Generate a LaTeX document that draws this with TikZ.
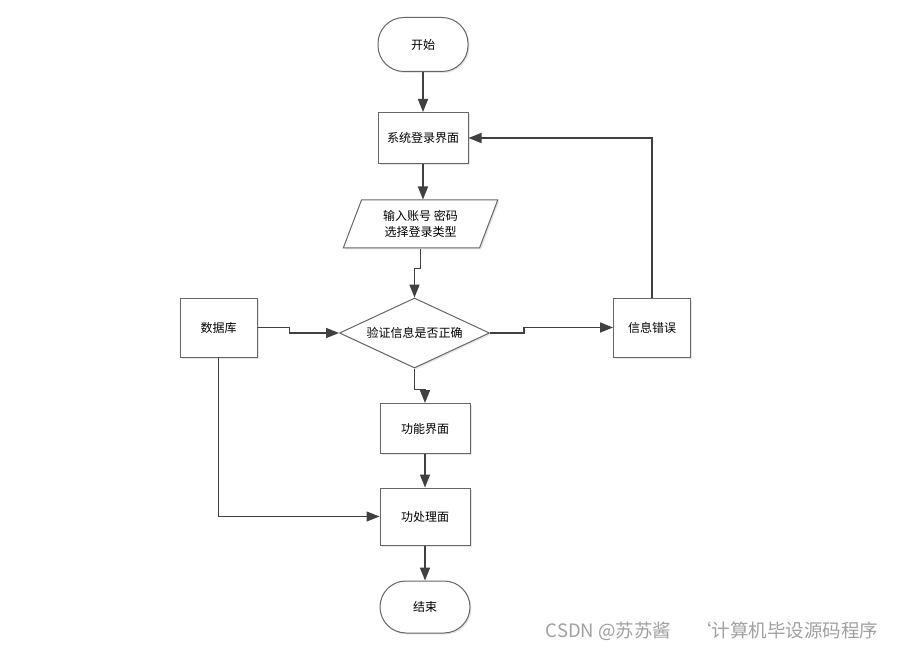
\documentclass[tikz,border=0pt]{standalone}
\usepackage{fontspec}
\setmainfont{Noto Sans CJK SC}
\usepackage{xcolor}
\usetikzlibrary{arrows.meta,shapes.geometric,shadows}
\definecolor{linegray}{HTML}{404040}
\definecolor{boxgray}{HTML}{666666}
\definecolor{markgray}{HTML}{A0A0A0}

\begin{document}
\begin{tikzpicture}[x=1pt, y=-1pt,
  every node/.style={font=\fontsize{12}{16}\selectfont, text=black},
  shade/.style={drop shadow={shadow xshift=1.5pt, shadow yshift=-1.5pt, fill=black!10, opacity=1}},
  box/.style={draw=boxgray, line width=1pt, fill=white, shade,
    minimum width=90pt, minimum height=51pt, inner sep=0pt},
  term/.style={box, rounded corners=26pt, minimum height=54pt},
  io/.style={box, trapezium, trapezium left angle=67, trapezium right angle=113,
    trapezium stretches=true, minimum width=155pt, minimum height=48pt, align=center},
  test/.style={box, diamond, minimum width=150pt, minimum height=70pt, aspect=2.1},
  arr/.style={draw=linegray, line width=1.6pt, -{Triangle[length=13pt, width=10pt]}}]
\useasboundingbox (0,0) rectangle (898,650);

% nodes
\node[term] (start) at (423,44.5) {开始};
\node[box] (login) at (423,138) {系统登录界面};
\node[io] (input) at (420.5,224) {输入账号 密码\\选择登录类型};
\node[test] (check) at (414.5,333) {验证信息是否正确};
\node[box, minimum width=77pt, minimum height=59pt] (db) at (218.5,327.5) {数据库};
\node[box, minimum width=77pt, minimum height=59pt] (err) at (652,327.5) {信息错误};
\node[box, minimum height=50pt] (menu) at (425,428.5) {功能界面};
\node[box, minimum height=57pt] (work) at (425,516.5) {功处理面};
\node[term, minimum height=52pt] (stop) at (425,607) {结束};

% connectors
\draw[arr] (start) -- (login);
\draw[arr] (login) -- (login |- input.north);
\draw[arr] (input.south) -- ++(0,20) -| (check.north);
\draw[arr] (check.south) -- ++(0,21) -| (menu.north);
\draw[arr] (menu) -- (work);
\draw[arr] (work) -- (stop);
\draw[arr] (db.east) -- ++(32,0) |- (check.west);
\draw[arr] (check.east) -- ++(34,0) |- (err.west);
\draw[arr] (err.north) |- (login.east);
\draw[arr, line width=1.3pt] (db.south) |- (work.west);

% watermark
\node[font=\fontsize{18.5}{22}\selectfont, text=markgray] (mark) at (712,631)
  {CSDN @苏苏酱\hspace{22pt}`计算机毕设源码程序};
\end{tikzpicture}
\end{document}
